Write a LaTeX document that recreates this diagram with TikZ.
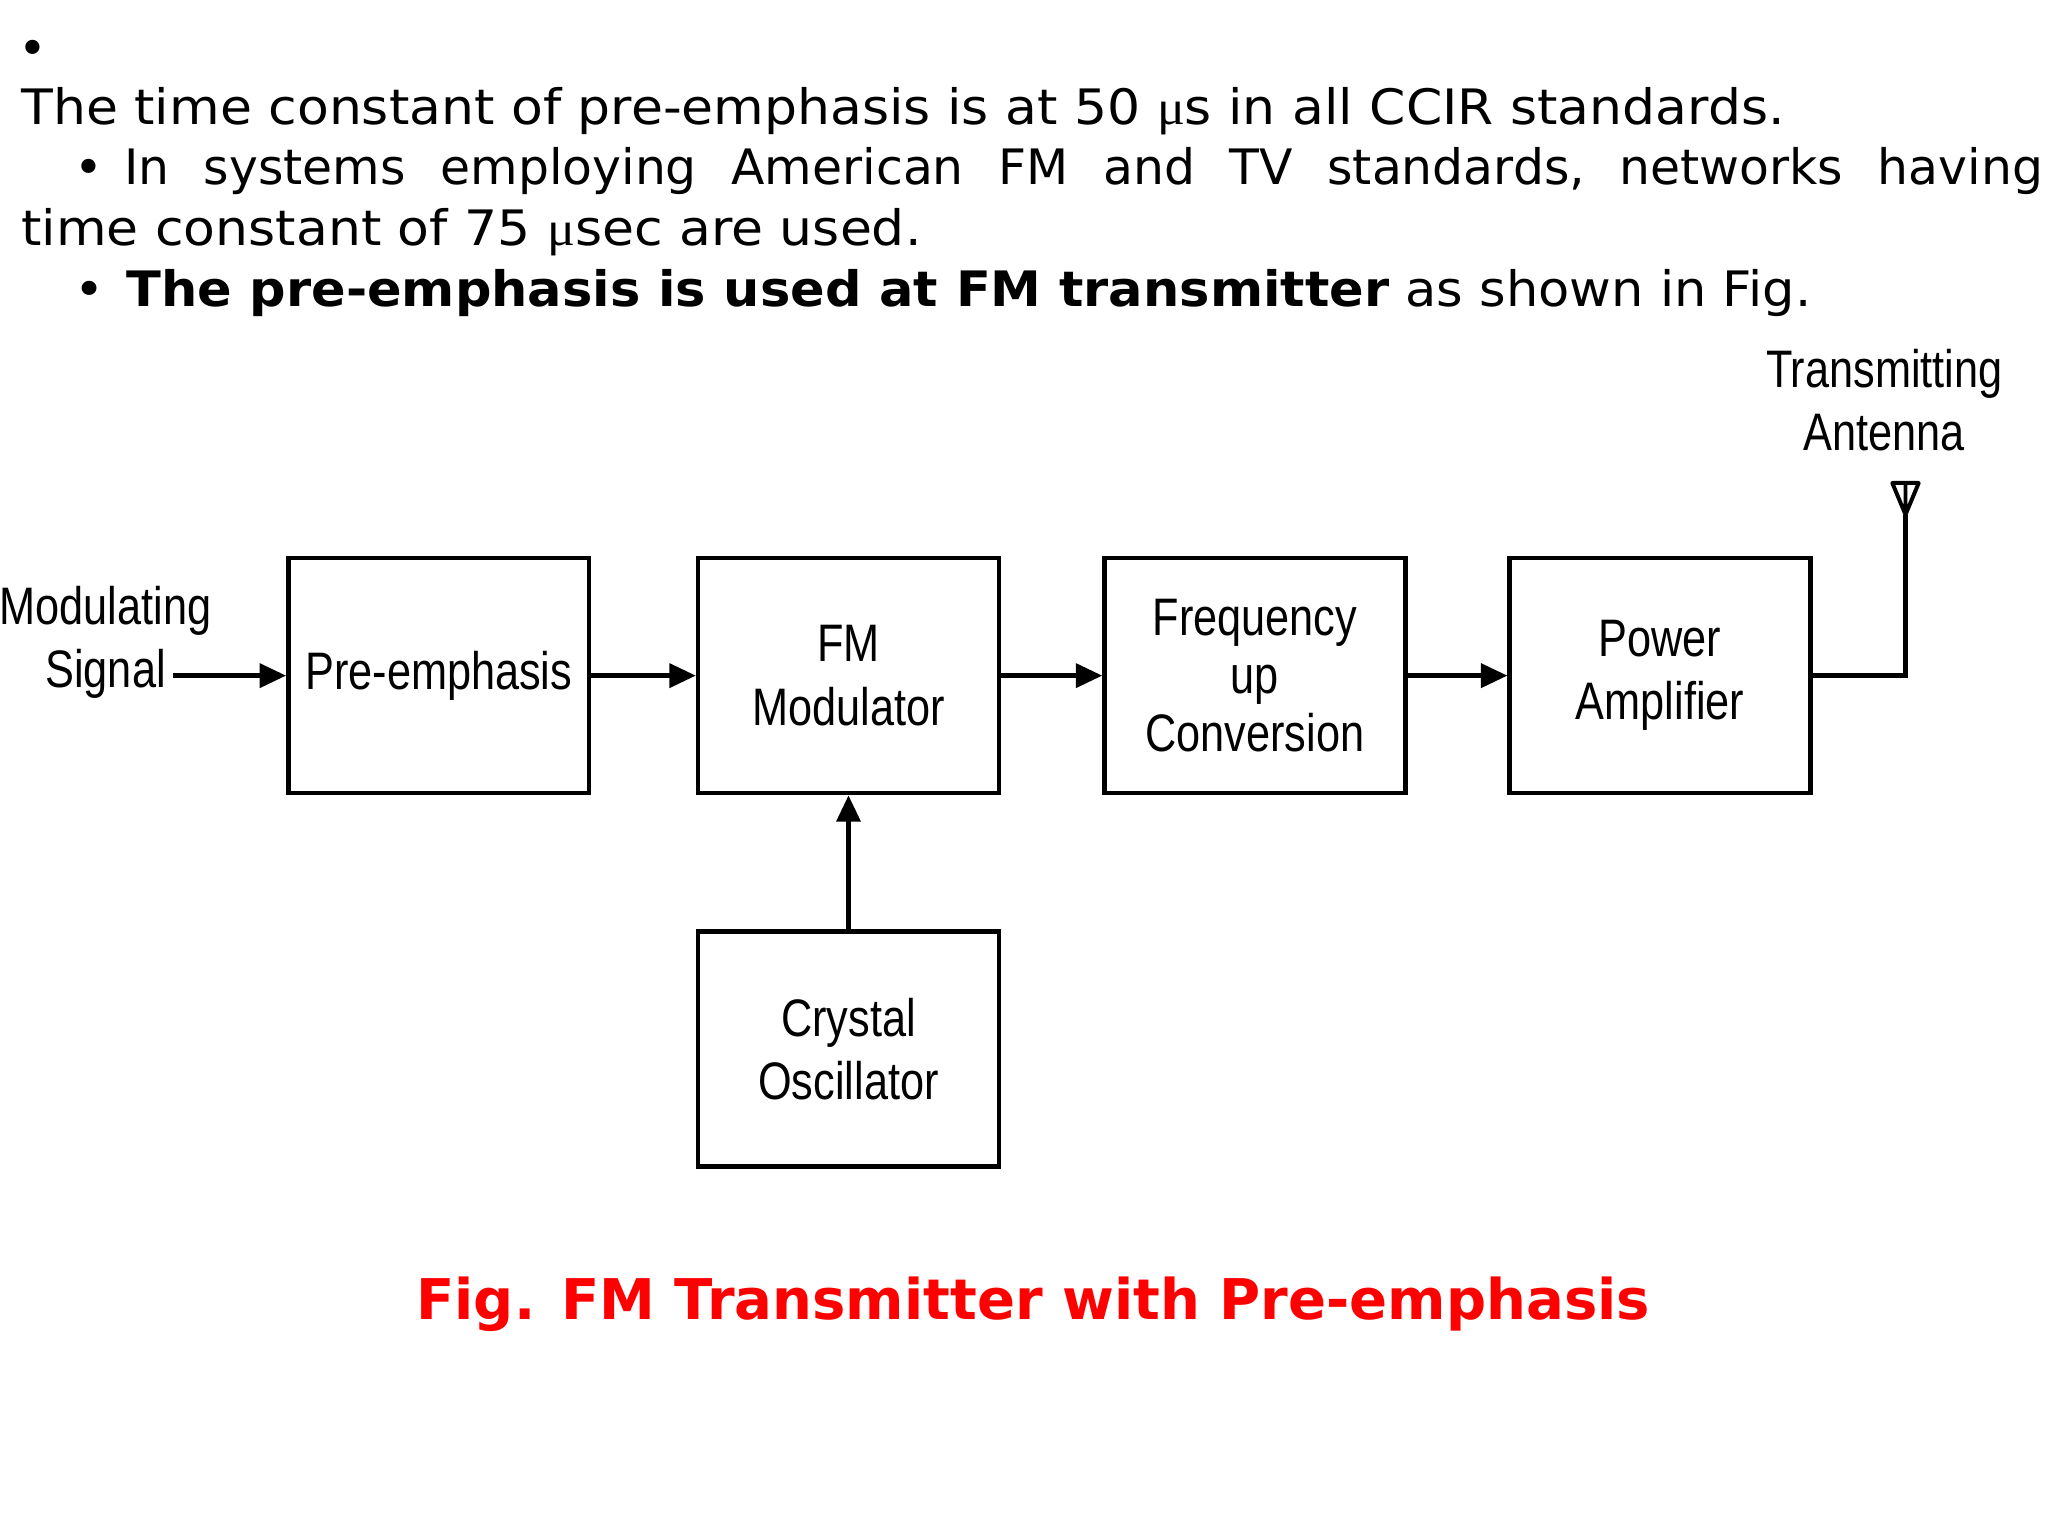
\documentclass[tikz,border=0pt]{standalone}
\usepackage{fontspec}
\setmainfont{DejaVu Sans}
\newfontfamily\lab{Liberation Sans}
\newfontfamily\mus{Liberation Serif}
\usetikzlibrary{arrows.meta}
\newcommand{\mmu}{{\mus μ}}
\newcommand{\nw}[1]{\scalebox{0.82}[1]{#1}}
\begin{document}
\begin{tikzpicture}[x=1pt,y=-1pt,
  blk/.style={draw,line width=3.4pt,minimum width=228pt,minimum height=178pt,inner sep=0pt,align=center,font=\lab\fontsize{40}{48}\selectfont},
  arr/.style={line width=3.4pt,-{Triangle[length=20pt,width=18pt]}},
  txt/.style={anchor=base west,inner sep=0pt,font=\fontsize{37}{44}\selectfont}]
\useasboundingbox (0,0) rectangle (1552,1164);
\node[txt] (b0) at (14,50) {•};
\node[txt] (l1) at (16,94) {\scalebox{1.065}[1]{The time constant of pre-emphasis is at 50 \mmu s in all CCIR standards.}};
\node[txt] (l2) at (56,140) {\hbox to 1492pt{•\hspace{16pt}In\hfill systems\hfill employing\hfill American\hfill FM\hfill and\hfill TV\hfill standards,\hfill networks\hfill having}};
\node[txt] (l3) at (16,186) {\scalebox{1.065}[1]{time constant of 75 \mmu sec are used.}};
\node[txt] (l4) at (56,232) {\scalebox{1.045}[1]{•\hspace{16pt}\textbf{The pre-emphasis is used at FM transmitter} as shown in Fig.}};
\node[blk] (pre) at (332.5,512) {\nw{Pre-emphasis}};
\node[blk] (fm) at (643,512) {\nw{FM}\\\nw{Modulator}};
\node[blk] (fu) at (951,512) {\nw{Frequency}\\[-4pt]\nw{up}\\[-4pt]\nw{Conversion}};
\node[blk] (pa) at (1258,512) {\nw{Power}\\\nw{Amplifier}};
\node[blk] (xo) at (643,795) {\nw{Crystal}\\\nw{Oscillator}};
\node[font=\lab\fontsize{40}{48}\selectfont,align=center,inner sep=0pt] (ms) at (80,487) {\nw{Modulating}\\\nw{Signal}};
\node[font=\lab\fontsize{40}{48}\selectfont,align=center,inner sep=0pt] (ta) at (1428,303) {\nw{Transmitting}\\\nw{Antenna}};
\coordinate (ms1) at (131,512);
\draw[arr] (ms1) -- (pre.west);
\draw[arr] (pre.east) -- (fm.west);
\draw[arr] (fm.east) -- (fu.west);
\draw[arr] (fu.east) -- (pa.west);
\draw[arr] (xo.north) -- (fm.south);
\coordinate (ant) at (1444,390);
\draw[line width=3.4pt] (pa.east) -- (1444,512) -- (ant);
\draw[line width=3pt,line join=round] (1434,366) -- (1454,366) -- (ant) -- cycle (1444,366) -- (ant);
\node[anchor=base,inner sep=0pt,text=red,font=\bfseries\fontsize{42.5}{50}\selectfont] (cap) at (783,1000) {Fig. FM Transmitter with Pre-emphasis};
\end{tikzpicture}
\end{document}
